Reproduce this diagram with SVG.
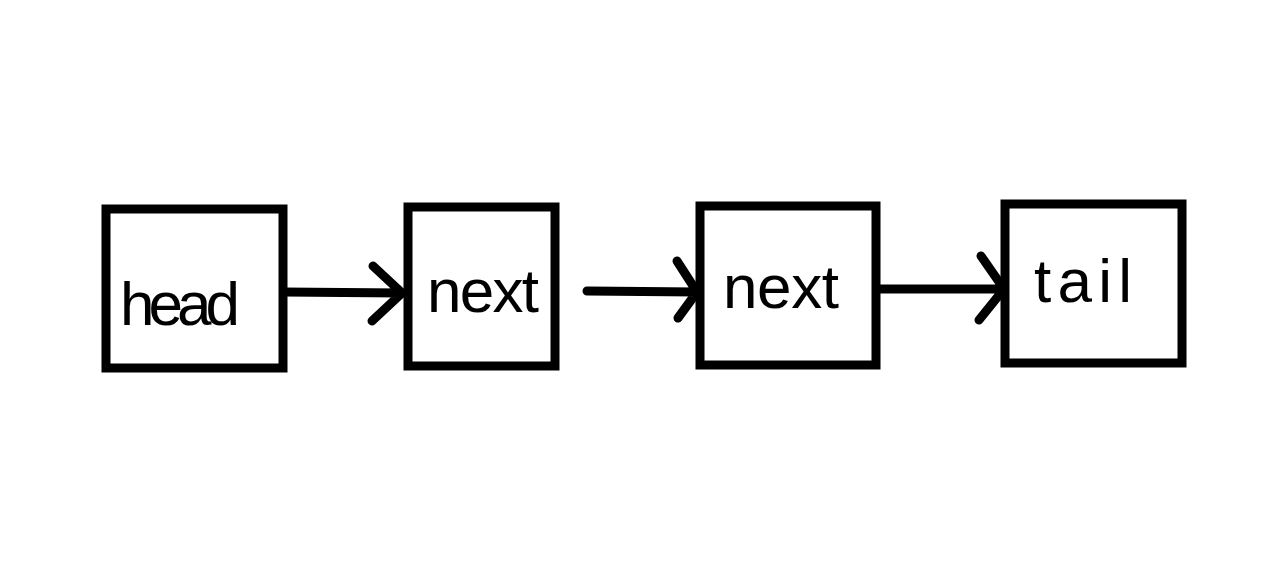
<svg xmlns="http://www.w3.org/2000/svg" width="1284" height="588" viewBox="0 0 1284 588">
<style>
.box{fill:#fff;stroke:#000;stroke-width:9}
.t{font-family:"Liberation Sans",sans-serif;font-size:62px;fill:#000}
.c{fill:none;stroke:#000;stroke-width:9;stroke-linecap:round;stroke-linejoin:round}
</style>
<rect width="1284" height="588" fill="#fff"/>
<g id="connectors">
<path class="c" d="M284 292 L402 293 M373 266 L402 293 L372 321"/>
<path class="c" d="M587 291 L697 292 M677 261 L697 292 L678 318"/>
<path class="c" d="M879 289 L1004 289 M981 256 L1004 289 L979 320"/>
</g>
<g id="n1"><rect class="box" x="106" y="209" width="177" height="159"/><text class="t" x="180" y="325" text-anchor="middle" textLength="120">head</text></g>
<g id="n2"><rect class="box" x="408" y="207" width="147" height="159"/><text class="t" x="483" y="312" text-anchor="middle" textLength="112">next</text></g>
<g id="n3"><rect class="box" x="700" y="206" width="176" height="159"/><text class="t" x="781" y="308" text-anchor="middle" textLength="116">next</text></g>
<g id="n4"><rect class="box" x="1005" y="204" width="177" height="159"/><text class="t" x="1083" y="302" text-anchor="middle" textLength="98">tail</text></g>
</svg>
